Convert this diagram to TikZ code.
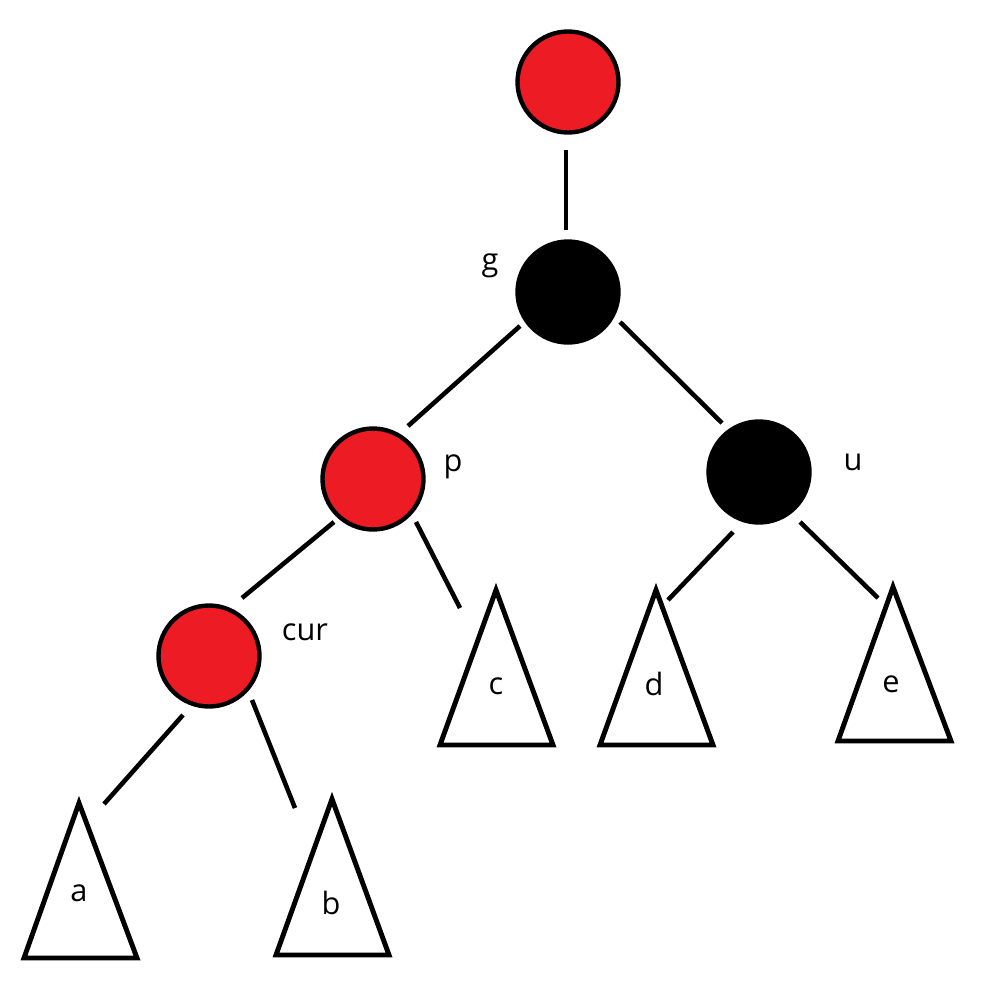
\documentclass[tikz,border=0pt]{standalone}
\usepackage{fontspec}
\setmainfont{Open Sans}
\definecolor{nodered}{HTML}{ED1C24}
\begin{document}
\begin{tikzpicture}[x=0.02cm,y=-0.02cm,
  rb/.style={circle,draw=black,line width=2.5pt,minimum size=101*0.02cm,inner sep=0pt},
  rednode/.style={rb,fill=nodered},
  blacknode/.style={rb,fill=black},
  edge/.style={line width=2.6pt},
  tri/.style={line width=2.8pt,line join=miter},
  lbl/.style={font=\fontsize{17.5}{20}\selectfont,inner sep=0pt}]
\useasboundingbox (0,0) rectangle (999,997);
\node[rednode] (root) at (568,82) {};
\node[blacknode] (g) at (568,292) {};
\node[rednode] (p) at (373,479) {};
\node[blacknode] (u) at (759,472) {};
\node[rednode] (cur) at (209,656) {};
\node[lbl] (lg) at (490,266) {g};
\node[lbl] (lp) at (453,467) {p};
\node[lbl] (lu) at (853,462) {u};
\node[lbl] (lcur) at (305,632) {cur};
% edge end points
\coordinate (e1a) at (566,150); \coordinate (e1b) at (566,230);
\coordinate (e2a) at (520,326); \coordinate (e2b) at (408,426);
\coordinate (e3a) at (620,322); \coordinate (e3b) at (722,423);
\coordinate (e4a) at (334,522); \coordinate (e4b) at (242,598);
\coordinate (e5a) at (416,522); \coordinate (e5b) at (460,608);
\coordinate (e6a) at (733,532); \coordinate (e6b) at (668,600);
\coordinate (e7a) at (800,522); \coordinate (e7b) at (878,598);
\coordinate (e8a) at (183,715); \coordinate (e8b) at (104,804);
\coordinate (e9a) at (252,700); \coordinate (e9b) at (295,808);
\foreach \e in {1,...,9} {\draw[edge] (e\e a) -- (e\e b);}
% triangles
\draw[tri] (79,803) -- (137,958) -- (24,958) -- cycle;
\node[lbl] (la) at (79,893) {a};
\draw[tri] (332,799) -- (389,955) -- (276,955) -- cycle;
\node[lbl] (lb) at (331,903) {b};
\draw[tri] (496,590) -- (553,745) -- (440,745) -- cycle;
\node[lbl] (lc) at (496,686) {c};
\draw[tri] (656,590) -- (713,745) -- (600,745) -- cycle;
\node[lbl] (ld) at (654,684) {d};
\draw[tri] (893,587) -- (951,741) -- (838,741) -- cycle;
\node[lbl] (le) at (891,684) {e};
\end{tikzpicture}
\end{document}
